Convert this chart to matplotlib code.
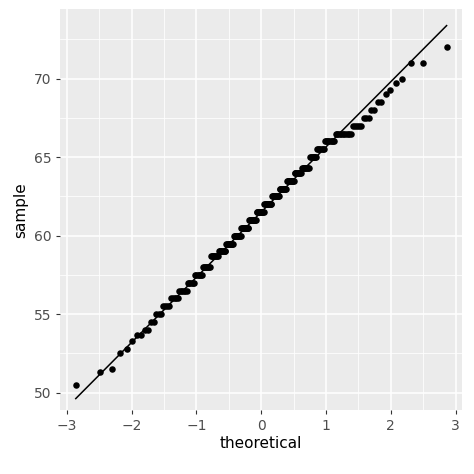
import numpy as np
import matplotlib
matplotlib.use("Agg")
import matplotlib.pyplot as plt
from statistics import NormalDist

# sample value levels and how many observations sit at each level
levels = [50.5, 51.3, 51.5, 52.5, 52.8, 53.3, 53.7, 54.0, 54.5, 55.0, 55.5, 56.0, 56.5, 57.0,
          57.5, 58.0, 58.7, 59.0, 59.5, 60.0, 60.5, 61.0, 61.5, 62.0, 62.5, 63.0, 63.5, 64.0,
          64.3, 65.0, 65.5, 66.0, 66.5, 67.0, 67.5, 68.0, 68.5, 69.0, 69.3, 69.7, 70.0, 71.0, 72.0]
counts = [1, 1, 1, 1, 1, 1, 2, 2, 2, 3, 4, 5, 6, 6,
          7, 8, 9, 9, 10, 10, 11, 11, 11, 11, 11, 10, 10, 9,
          9, 8, 7, 9, 11, 5, 3, 2, 2, 1, 1, 1, 1, 2, 1]

sample = np.sort(np.repeat(levels, counts))
n = len(sample)
nd = NormalDist()
p = (np.arange(1, n + 1) - 0.5) / n
theo = np.array([nd.inv_cdf(v) for v in p])

# qq line through quartiles
sq = np.quantile(sample, [0.25, 0.75])
tq = np.array([nd.inv_cdf(0.25), nd.inv_cdf(0.75)])
slope = (sq[1] - sq[0]) / (tq[1] - tq[0])
icpt = sq[0] - slope * tq[0]

fig = plt.figure(figsize=(4.74, 4.74), dpi=100)
ax = fig.add_axes([0.127, 0.135, 0.848, 0.845])
ax.set_facecolor("#EBEBEB")
for s in ax.spines.values():
    s.set_visible(False)
ax.set_xlim(-3.1, 3.1)
ax.set_ylim(48.9, 74.4)
ax.set_xticks([-3, -2, -1, 0, 1, 2, 3])
ax.set_yticks([50, 55, 60, 65, 70])
ax.set_xticks(np.arange(-2.5, 3, 1), minor=True)
ax.set_yticks([52.5, 57.5, 62.5, 67.5, 72.5], minor=True)
ax.grid(which="major", color="white", lw=1.1)
ax.grid(which="minor", color="white", lw=0.55)
ax.set_axisbelow(True)
ax.tick_params(which="major", length=3, color="#333333", labelcolor="#4D4D4D", labelsize=10)
ax.tick_params(which="minor", length=0)

xl = np.array([theo.min(), theo.max()])
ax.plot(xl, icpt + slope * xl, color="black", lw=1.1, zorder=2)
ax.scatter(theo, sample, s=22, color="black", zorder=3, linewidths=0)
ax.set_xlabel("theoretical", fontsize=11, labelpad=2)
ax.set_ylabel("sample", fontsize=11, labelpad=4)
fig.savefig("out.png", dpi=100)
